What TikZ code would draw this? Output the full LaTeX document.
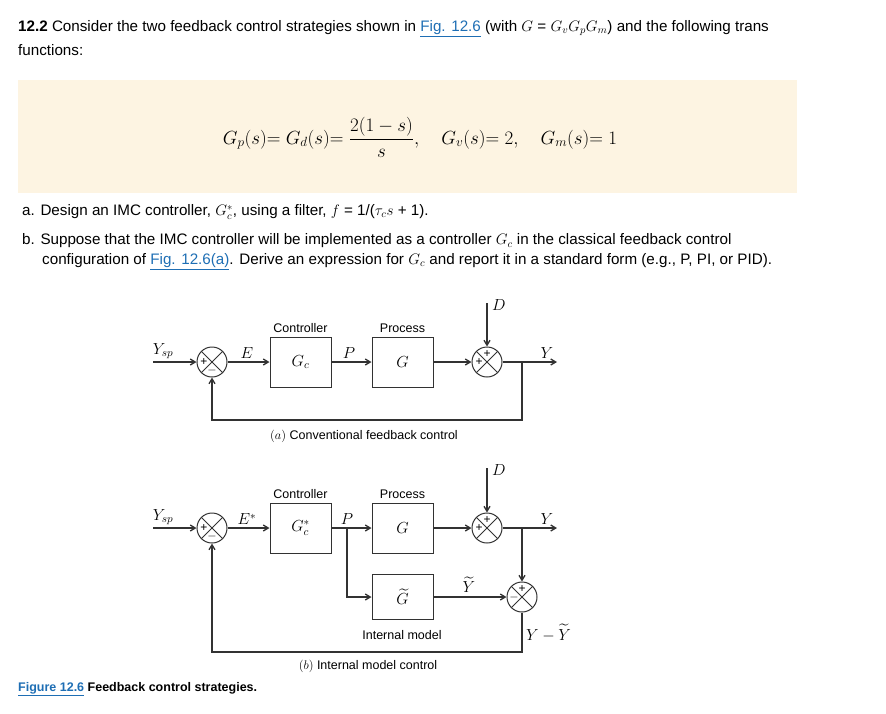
\documentclass[tikz,border=0pt]{standalone}
\usepackage{fix-cm}
\usepackage{amsmath}
\usepackage{fontspec}
\setmainfont{Liberation Sans}
\usetikzlibrary{arrows.meta}
\definecolor{panel}{RGB}{253,244,226}
\definecolor{linkblue}{RGB}{30,110,180}
\definecolor{wire}{RGB}{50,50,50}
\newcommand{\lnk}[1]{\textcolor{linkblue}{\underline{#1}}}
\tikzset{
  wire/.style={draw=wire, line width=1.3pt, -{Straight Barb[length=5pt,width=6pt]}},
  line/.style={draw=wire, line width=1.3pt},
  blk/.style={draw=wire, line width=1pt, minimum width=61pt, minimum height=50pt, inner sep=0, font=\fontsize{16}{18}\selectfont},
  summer/.style={circle, draw=wire, line width=1pt, minimum size=30pt, inner sep=0,
    path picture={\draw[wire, line width=1pt] (path picture bounding box.south west) -- (path picture bounding box.north east)
      (path picture bounding box.north west) -- (path picture bounding box.south east);}},
  sign/.style={font=\fontsize{12}{12}\selectfont, inner sep=0},
  tag/.style={font=\fontsize{12.5}{14}\selectfont, inner sep=1pt},
  sym/.style={font=\fontsize{16}{18}\selectfont, inner sep=1pt},
  txt/.style={anchor=west, inner sep=0, font=\fontsize{15.2}{17}\selectfont}
}
\begin{document}
\begin{tikzpicture}[x=1pt, y=-1pt]
  \useasboundingbox (0,0) rectangle (886,713);
  % Problem text
  \node[txt] (head) at (18,29) {\textbf{12.2} Consider the two feedback control strategies shown in \lnk{Fig. 12.6} (with $G$ = $G_vG_pG_m$) and the following trans};
  \node[txt] (head2) at (18,50) {functions:};
  \fill[panel] (18,80) rectangle (797,193);
  \node[inner sep=0, font=\fontsize{19}{22}\selectfont] (eqn) at (420,137)
    {$G_p(s){=}\ G_d(s){=}\ \dfrac{2(1-s)}{s},\quad G_v(s){=}\ 2,\quad G_m(s){=}\ 1$};
  \node[txt] (qa) at (22,212) {a. Design an IMC controller, $G_c^*$, using a filter, $f$ = 1/($\tau_c s$ + 1).};
  \node[txt] (qb) at (22,241) {b. Suppose that the IMC controller will be implemented as a controller $G_c$ in the classical feedback control};
  \node[txt] (qb2) at (42,262) {configuration of \lnk{Fig. 12.6(a)}. Derive an expression for $G_c$ and report it in a standard form (e.g., P, PI, or PID).};

  % (a) Conventional feedback control
  \coordinate (inA) at (153,362);
  \node[summer] (sA1) at (212,362) {};
  \node[blk] (ctrlA) at (300.5,362) {$G_c$};
  \node[blk] (procA) at (402.5,362) {$G$};
  \node[summer] (sA2) at (487,362) {};
  \coordinate (dA) at (487,303);
  \coordinate (tapA) at (522,362);
  \coordinate (outA) at (557,362);
  \coordinate (fbA) at (522,420);
  \node[sign] at ([xshift=-8pt]sA1.center) {+};
  \node[sign] at ([yshift=-8pt]sA1.center) {$-$};
  \node[sign] at ([xshift=-8pt]sA2.center) {+};
  \node[sign] at ([yshift=8pt]sA2.center) {+};
  \draw[wire] (inA) -- (sA1);
  \draw[wire] (sA1) -- (ctrlA);
  \draw[wire] (ctrlA) -- (procA);
  \draw[wire] (procA) -- (sA2);
  \draw[wire] (dA) -- (sA2);
  \draw[wire] (sA2) -- (outA);
  \draw[wire] (tapA) -- (fbA) -| (sA1);
  \node[sym, anchor=south] at (163,360) {$Y_{sp}$};
  \node[sym, anchor=south] at (247,360) {$E$};
  \node[sym, anchor=south] at (349,360) {$P$};
  \node[sym, anchor=south] at (547,360) {$Y$};
  \node[sym, anchor=west] at (491,305) {$D$};
  \node[tag, anchor=south] at ([yshift=3pt]ctrlA.north) {Controller};
  \node[tag, anchor=south] at ([yshift=3pt]procA.north) {Process};
  \node[tag] (capA) at (364,436) {$(a)$ Conventional feedback control};

  % (b) Internal model control
  \coordinate (inB) at (153,528);
  \node[summer] (sB1) at (212,528) {};
  \node[blk] (ctrlB) at (300.5,528) {$G_c^*$};
  \coordinate (brB) at (347,528);
  \node[blk] (procB) at (402.5,528) {$G$};
  \node[summer] (sB2) at (487,528) {};
  \coordinate (dB) at (487,468);
  \coordinate (tapB) at (522,528);
  \coordinate (outB) at (557,528);
  \node[blk, minimum height=45pt] (modB) at (402.5,597) {$\widetilde{G}$};
  \node[summer] (sB3) at (522,597) {};
  \coordinate (fbB) at (522,652);
  \node[sign] at ([xshift=-8pt]sB1.center) {+};
  \node[sign] at ([yshift=-8pt]sB1.center) {$-$};
  \node[sign] at ([xshift=-8pt]sB2.center) {+};
  \node[sign] at ([yshift=8pt]sB2.center) {+};
  \node[sign] at ([xshift=-8pt]sB3.center) {$-$};
  \node[sign] at ([yshift=8pt]sB3.center) {+};
  \draw[wire] (inB) -- (sB1);
  \draw[wire] (sB1) -- (ctrlB);
  \draw[wire] (ctrlB) -- (procB);
  \draw[wire] (brB) |- (modB);
  \draw[wire] (procB) -- (sB2);
  \draw[wire] (dB) -- (sB2);
  \draw[wire] (sB2) -- (outB);
  \draw[wire] (tapB) -- (sB3);
  \draw[wire] (modB) -- (sB3);
  \draw[wire] (sB3) -- (fbB) -| (sB1);
  \node[sym, anchor=south] at (163,526) {$Y_{sp}$};
  \node[sym, anchor=south] at (247,526) {$E^*$};
  \node[sym, anchor=south] at (347,526) {$P$};
  \node[sym, anchor=south] at (547,526) {$Y$};
  \node[sym, anchor=west] at (491,470) {$D$};
  \node[sym, anchor=south] at (469,594) {$\widetilde{Y}$};
  \node[sym, anchor=west] at (525,633) {$Y - \widetilde{Y}$};
  \node[tag, anchor=south] at ([yshift=3pt]ctrlB.north) {Controller};
  \node[tag, anchor=south] at ([yshift=3pt]procB.north) {Process};
  \node[tag] (modtag) at (402,635) {Internal model};
  \node[tag] (capB) at (368,666) {$(b)$ Internal model control};

  % Figure caption
  \node[anchor=west, inner sep=0, font=\fontsize{12.5}{15}\selectfont\bfseries] (fig) at (18,689)
    {\lnk{Figure 12.6} Feedback control strategies.};
\end{tikzpicture}
\end{document}
